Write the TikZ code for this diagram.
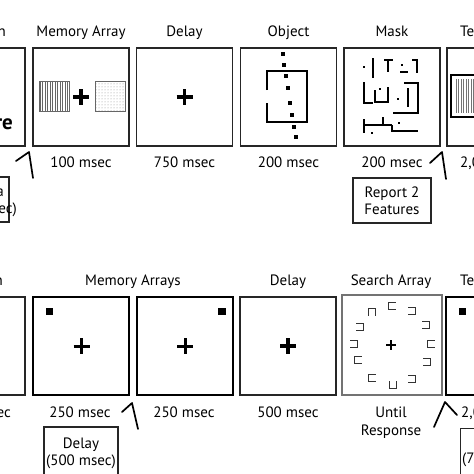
\documentclass[tikz,border=0pt]{standalone}
\usepackage{fontspec}
\setmainfont{PT Sans}
\usetikzlibrary{patterns}
\begin{document}
\begin{tikzpicture}[x=1pt,y=-1pt,
  panel/.style={draw=black!85, line width=1.2pt, minimum width=96pt, minimum height=98pt, inner sep=0pt},
  heavypanel/.style={draw=black, line width=2pt, minimum width=96pt, minimum height=98pt, inner sep=0pt},
  lightpanel/.style={draw=black!55, line width=1.2pt, minimum width=100pt, minimum height=100pt, inner sep=0pt},
  lbl/.style={font=\fontsize{15}{18}\selectfont, anchor=base, inner sep=0pt},
  infobox/.style={draw=black!85, line width=1.1pt, font=\fontsize{15}{17}\selectfont, align=center, inner sep=0pt},
  fixcross/.style={line width=3.6pt, black},
  caret/.style={line width=1.7pt, black, line cap=round, line join=round},
  mazeline/.style={line width=1.8pt, black},
  dotsq/.style={fill=black},
  cshape/.pic={\draw[line width=1.2pt, black!80] (3.8,-3.8) -- (-3.8,-3.8) -- (-3.8,3.8) -- (3.8,3.8);}
]
\useasboundingbox (0,0) rectangle (474,474);
\clip (0,0) rectangle (474,474);

% ---------------- top row ----------------
\node[panel] (t0) at (-23,97) {};
\node[panel] (t1) at (81,97) {};
\node[panel] (t2) at (184.5,97) {};
\node[panel] (t3) at (288.5,97) {};
\node[panel] (t4) at (392,97) {};
\node[panel] (t5) at (495,97) {};

\node[lbl, anchor=base east] (tt0) at (6,36) {n};
\node[lbl] (tt1) at (81,36) {Memory Array};
\node[lbl] (tt2) at (184.5,36) {Delay};
\node[lbl] (tt3) at (288.5,36) {Object};
\node[lbl] (tt4) at (392,36) {Mask};
\node[lbl, anchor=base west] (tt5) at (460,36) {Te};

\node[lbl] (td1) at (81,167) {100 msec};
\node[lbl] (td2) at (184.5,167) {750 msec};
\node[lbl] (td3) at (288.5,167) {200 msec};
\node[lbl] (td4) at (392,167) {200 msec};
\node[lbl, anchor=base west] (td5) at (460,167) {2,0};

% partial left panel text
\node[font=\fontsize{21}{24}\selectfont\bfseries, anchor=base east, inner sep=0pt] (tw) at (13,129) {re};

% memory array contents
\foreach \xx in {40,42.5,...,68.5} \draw[black!60, line width=0.7pt] (\xx,81) -- (\xx,111);
\draw[black!60, line width=0.8pt] (39,81) rectangle (69,111);
\fill[pattern=dots, pattern color=black!45] (95,81) rectangle (125,111);
\draw[black!60, line width=0.8pt] (95,81) rectangle (125,111);
\draw[fixcross] (73,97) -- (89,97) (81,89) -- (81,105);

% delay
\draw[fixcross] (176.5,97) -- (192.5,97) (184.5,89) -- (184.5,105);

% object
\draw[line width=2.6pt, black] (267,90) -- (267,71) -- (307,71) -- (307,122) -- (267,122) -- (267,103);
\foreach \px/\py in {283/54,284/65,286/76,288/88,290/103,292/115,294/127,296/137}
  \fill[dotsq] (\px-2.3,\py-2.3) rectangle (\px+2.3,\py+2.3);

% mask
\draw[mazeline] (373,58) -- (373,78);
\draw[mazeline] (384,60) -- (393,60) (388,60) -- (388,72);
\draw[mazeline] (400,72) -- (408,72);
\draw[mazeline] (412,60) -- (417,60) -- (417,73);
\draw[mazeline] (364,82) -- (364,103) -- (373,103);
\draw[mazeline] (375,90) -- (375,102) -- (388,102) -- (388,87);
\draw[mazeline] (404,83) -- (418,83) -- (418,113) -- (393,113);
\draw[line width=2.6pt] (408,88) -- (408,107);
\draw[mazeline] (364,119) -- (364,133) (364,125) -- (392,125) (383,117) -- (383,125) (392,125) -- (392,131) -- (418,131);
\foreach \px/\py in {402/65,364/67,380/89,398/99,399/123,372/133}
  \fill (\px-0.9,\py-0.9) rectangle (\px+0.9,\py+0.9);

% test (top, partial)
\draw[line width=2.2pt] (451,75) rectangle (500,117);
\foreach \xx in {456,458.5,...,474} \draw[black!55, line width=0.7pt] (\xx,79) -- (\xx,113);

% info boxes top
\node[infobox, minimum width=20pt, minimum height=45pt] (ib0) at (-1,199.5) {};
\node[lbl, anchor=base east] (ib0a) at (4,196) {a};
\node[lbl, anchor=base east] (ib0b) at (17,213) {ec)};
\node[infobox, minimum width=78pt, minimum height=45pt] (ib1) at (392,200.5) {Report 2\\Features};

% carets top
\draw[caret] (16,161) -- (29,152) -- (33,178);
\draw[caret] (430,163) -- (442,152) -- (446,179);

% ---------------- bottom row ----------------
\node[panel] (b0) at (-23,346) {};
\node[heavypanel] (b1) at (81,346) {};
\node[heavypanel] (b2) at (184.5,346) {};
\node[panel] (b3) at (288,346) {};
\node[lightpanel] (b4) at (392,345) {};
\node[heavypanel] (b5) at (494,346) {};

\node[lbl, anchor=base east] (bt0) at (3,285) {n};
\node[lbl] (bt1) at (133,285) {Memory Arrays};
\node[lbl] (bt3) at (288,285) {Delay};
\node[lbl] (bt4) at (391,285) {Search Array};
\node[lbl, anchor=base west] (bt5) at (460,285) {Te};

\node[lbl, anchor=base east] (bd0) at (11,417) {ec};
\node[lbl] (bd1) at (80,417) {250 msec};
\node[lbl] (bd2) at (184,417) {250 msec};
\node[lbl] (bd3) at (288,417) {500 msec};
\node[lbl] (bd4a) at (391,417) {Until};
\node[lbl] (bd4b) at (391,435) {Response};
\node[lbl, anchor=base west] (bd5) at (461,417) {2,0};

% memory arrays contents
\fill (45.8,307.8) rectangle (53.2,315.2);
\fill (218.3,307.8) rectangle (225.7,315.2);
\draw[line width=3pt] (73.5,346) -- (89.5,346) (81.5,338) -- (81.5,354);
\draw[line width=3pt] (177,346) -- (193,346) (185,338) -- (185,354);

% delay
\draw[fixcross] (280,346) -- (296,346) (288,338) -- (288,354);

% search array
\draw[line width=2.8pt] (386,345) -- (396,345) (391,340) -- (391,350);
\pic at (392,306) {cshape};
\pic[rotate=180] at (412,311) {cshape};
\pic[rotate=180] at (426,325) {cshape};
\pic at (431,344) {cshape};
\pic[rotate=180] at (427,362) {cshape};
\pic[rotate=180] at (412,379) {cshape};
\pic[rotate=90] at (393,385) {cshape};
\pic at (372,378) {cshape};
\pic at (358,360) {cshape};
\pic[rotate=180] at (354,344) {cshape};
\pic[rotate=180] at (360,327) {cshape};
\pic[rotate=-90] at (372,312) {cshape};

% test (bottom)
\fill (459,308) rectangle (466,315);

% info boxes bottom
\node[infobox, minimum width=74pt, minimum height=52pt] (ib2) at (81,453) {Delay\\(500 msec)};
\node[infobox, minimum width=40pt, minimum height=52pt, anchor=north west] (ib3) at (460,428) {};
\node[lbl, anchor=base west] (ib3a) at (462,463) {(7};

% carets bottom
\draw[caret] (122,412) -- (132,403) -- (138,429);
\draw[caret] (434,427) -- (445,402) -- (457,415);
\end{tikzpicture}
\end{document}
